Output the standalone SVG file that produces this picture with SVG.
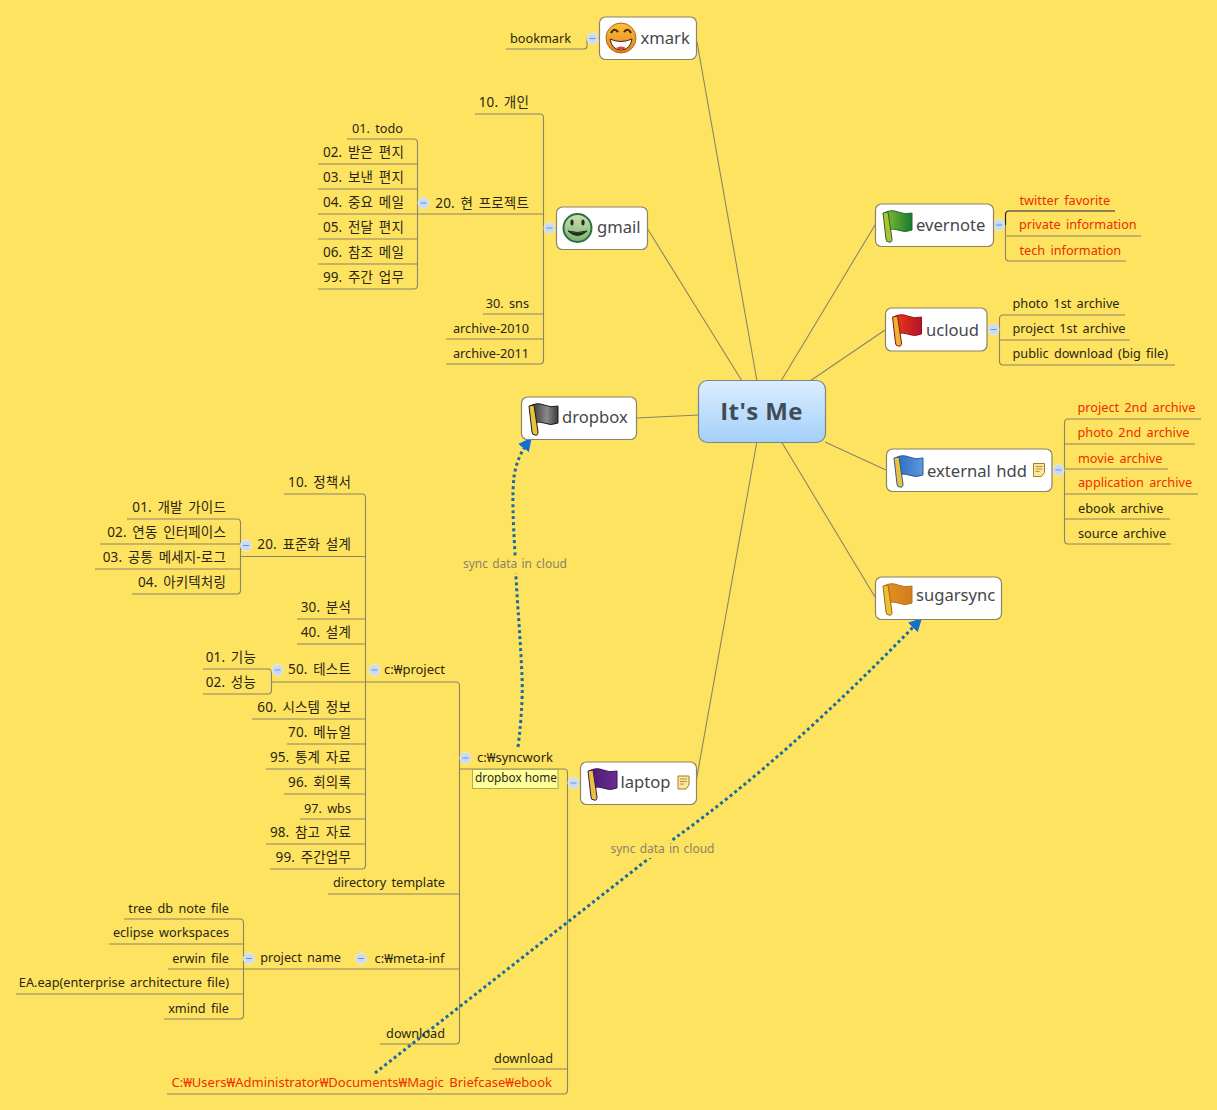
<svg xmlns="http://www.w3.org/2000/svg" width="1217" height="1110" viewBox="0 0 1217 1110">
<style>
text{font-family:"Noto Sans","Noto Sans CJK KR",sans-serif}
.t{font-size:12.7px;fill:#2b2614;text-anchor:end;word-spacing:2px}
.k{font-size:13.5px;fill:#2b2614;text-anchor:end;word-spacing:2px;letter-spacing:.15px}
.s{font-size:12.7px;fill:#2b2614;word-spacing:2px}
.r{font-size:12.7px;fill:#ee2c00;word-spacing:2px}
.m{font-size:16.6px;fill:#44474c}
.box{fill:#fff;stroke:#8a8468;stroke-width:1.2}
.c{fill:none;stroke:#8a8468;stroke-width:1.1}
.rel{fill:none;stroke:#1a6c9e;stroke-width:3;stroke-dasharray:3 3}
.lab{font-size:12px;fill:#8a8468;word-spacing:1px}
.dot{fill:#c9dcf2;stroke:#dfe8ee;stroke-width:1}
.min{stroke:#6f95c8;stroke-width:1}
</style>
<defs>
<linearGradient id="cg" x1="0" y1="0" x2="0" y2="1"><stop offset="0" stop-color="#dcedfd"/><stop offset="1" stop-color="#a3d0fa"/></linearGradient>
<linearGradient id="fg" x1="0" y1="0" x2="1" y2="0"><stop offset="0" stop-color="#8cc030"/><stop offset="1" stop-color="#167a30"/></linearGradient>
<linearGradient id="fr" x1="0" y1="0" x2="1" y2="0"><stop offset="0" stop-color="#f03a10"/><stop offset="1" stop-color="#b4142c"/></linearGradient>
<linearGradient id="fb" x1="0" y1="0" x2="1" y2="0"><stop offset="0" stop-color="#2a68c0"/><stop offset="1" stop-color="#5c9ad8"/></linearGradient>
<linearGradient id="fo" x1="0" y1="0" x2="1" y2="0"><stop offset="0" stop-color="#e8901c"/><stop offset="1" stop-color="#d07c20"/></linearGradient>
<linearGradient id="fk" x1="0" y1="0" x2="1" y2="0"><stop offset="0" stop-color="#2c2c2c"/><stop offset="0.6" stop-color="#8a8a8a"/><stop offset="1" stop-color="#3c3c3c"/></linearGradient>
<linearGradient id="fp" x1="0" y1="0" x2="1" y2="0"><stop offset="0" stop-color="#4a1a70"/><stop offset="1" stop-color="#6c2c90"/></linearGradient>
<linearGradient id="face" x1="0" y1="0" x2="0" y2="1"><stop offset="0" stop-color="#f8c23c"/><stop offset="1" stop-color="#e8801c"/></linearGradient>
<linearGradient id="gface" x1="0" y1="0" x2="0" y2="1"><stop offset="0" stop-color="#cfe0b0"/><stop offset="1" stop-color="#7cb070"/></linearGradient>
<path id="flag" d="M1,2 Q8,-2 15,1 Q22,4 29,2 L29,19 Q22,22 15,19 Q10,17 5,19 Z"/>
<path id="pole" d="M0,2 L5,1 L9,28 Q9,32 6,31 Q3,31 3,28 Z"/>
<marker id="arr" markerWidth="4.500" markerHeight="4.500" refX="3" refY="2.250" orient="auto"><path d="M0,0 L4.500,2.250 L0,4.500 Z" fill="#1470d0"/></marker>
<g id="note"><path d="M0,0 H11 V9 L8,13 H0 Z" fill="#fbe79a" stroke="#a87c28" stroke-width="1"/><path d="M2,3 H9 M2,5.500 H9 M2,8 H6" stroke="#a87c28" stroke-width="0.8"/></g>
<g id="dotm"><circle r="5.500" class="dot"/><path d="M-3,0 H3" class="min"/></g>
</defs>
<rect width="1217" height="1110" fill="#fee360"/>
<g id="connectors">
<path class="c" d="M697,42 L757,381 M647,228 L742,381 M636,418 L699,415 M696,782 L757,441 M875,225 L781,381 M885,330 L810,381 M886,470 L825,442 M875,597 L781,441"/>
<path class="c" d="M506,49 H584 Q587,49 587,46 V38 H599"/>
<path class="c" d="M475,114 H540 Q543.500,114 543.500,118 V360 Q543.500,364 540,364 H446 M417.500,214 H543.500 M483,314 H543.500 M446,339 H543.500 M543.500,228 H556"/>
<path class="c" d="M347,139 H414 Q417.500,139 417.500,143 V285 Q417.500,289 414,289 H318 M318,164 H417.500 M318,189 H417.500 M318,214 H417.500 M318,239 H417.500 M318,264 H417.500"/>
<path class="c" d="M993,225 H1005"/>
<path class="c" d="M1126,261 H1009 Q1005.500,261 1005.500,257 V225 M1005.500,236 H1141"/>
<path fill="none" stroke="#1c1c50" stroke-width="1.2" d="M1115,211 H1009 Q1005.500,211 1005.500,215 V225"/>
<path class="c" d="M987,330 H999.500 M1125,315 H1003 Q999.500,315 999.500,319 V361 Q999.500,365 1003,365 H1175 M999.500,340 H1130"/>
<path class="c" d="M1052,470 H1064.500 M1201,419 H1068 Q1064.500,419 1064.500,423 V540 Q1064.500,544 1068,544 H1171 M1064.500,444 H1195 M1064.500,469 H1168 M1064.500,494 H1198 M1064.500,519 H1170"/>
<path class="c" d="M459.500,769 H564 Q567.500,769 567.500,773 V1090 Q567.500,1094 564,1094 H167 M492,1069 H567.500 M567.500,783 H580"/>
<path class="c" d="M365.500,682 H456 Q459.500,682 459.500,686 V1040 Q459.500,1044 456,1044 H380 M328,894 H459.500 M243.500,969 H459.500"/>
<path class="c" d="M284,494 H362 Q365.500,494 365.500,498 V865 Q365.500,869 362,869 H270 M240.500,556.500 H365.500 M297,619 H365.500 M297,644 H365.500 M271.500,682 H365.500 M252,719 H365.500 M287,744 H365.500 M266,769 H365.500 M284,794 H365.500 M300,819 H365.500 M266,844 H365.500"/>
<path class="c" d="M127,519 H237 Q240.500,519 240.500,523 V590 Q240.500,594 237,594 H132 M100,544 H240.500 M95,569 H240.500"/>
<path class="c" d="M203,669 H268 Q271.500,669 271.500,673 V690 Q271.500,694 268,694 H203"/>
<path class="c" d="M124,919 H240 Q243.500,919 243.500,923 V1015 Q243.500,1019 240,1019 H164 M109,944 H243.500 M168,969 H243.500 M16,994 H243.500"/>
<path class="rel" marker-end="url(#arr)" d="M518,747 C522,715 523,690 521.700,670 C520,630 516,590 515,553 C513,520 512,495 514,477 C516,462 522,450 529,441"/>
<path class="rel" marker-end="url(#arr)" d="M375,1073 L675,838 Q788,757 919,621"/>
</g>
<g id="collapse">
<use href="#dotm" x="592.500" y="38.500"/><use href="#dotm" x="549.500" y="228"/><use href="#dotm" x="423.500" y="203"/>
<use href="#dotm" x="999" y="225"/><use href="#dotm" x="993.500" y="329.500"/><use href="#dotm" x="1058.500" y="470"/>
<use href="#dotm" x="573.500" y="783"/><use href="#dotm" x="465.500" y="758"/><use href="#dotm" x="374.500" y="670"/>
<use href="#dotm" x="246" y="545.500"/><use href="#dotm" x="277.500" y="670"/><use href="#dotm" x="249" y="958.500"/><use href="#dotm" x="361" y="958.500"/>
</g>
<g id="center"><rect x="698.500" y="380.500" width="127" height="62" rx="9" fill="url(#cg)" stroke="#78868e" stroke-width="1.2"/><text x="761.500" y="420" text-anchor="middle" font-size="24" font-weight="700" fill="#404c58" letter-spacing="0.400" style="font-family:'Open Sans',sans-serif">It's Me</text></g>
<g id="xmark"><rect class="box" x="599.500" y="17" width="97" height="42.500" rx="6"/>
<circle cx="621" cy="38" r="15" fill="url(#face)" stroke="#a86a18"/><path d="M610,39 Q621,44 632,39 Q630,50 621,50 Q612,50 610,39 Z" fill="#fff" stroke="#4a2810"/><path d="M616,48 Q621,45 626,48 Q621,51 616,48 Z" fill="#d8404c"/><path d="M611,33 Q614,27 618,32 M624,32 Q628,27 631,33" fill="none" stroke="#4a2810" stroke-width="2.200"/>
<text class="m" x="640.500" y="44">xmark</text></g>
<g id="bookmark"><text class="s" x="510" y="43">bookmark</text></g>
<g id="gmail"><rect class="box" x="556.500" y="207" width="91" height="42.500" rx="6"/>
<circle cx="577.500" cy="228" r="14" fill="url(#gface)" stroke="#2a7040" stroke-width="2"/><ellipse cx="572" cy="222.500" rx="1.600" ry="3" fill="#1c3020"/><ellipse cx="583" cy="222.500" rx="1.600" ry="3" fill="#1c3020"/><path d="M568,231 Q577.500,240 587,231 Q577.500,234 568,231 Z" fill="#1c3020" stroke="#1c3020"/>
<text class="m" x="597" y="233">gmail</text></g>
<g id="evernote"><rect class="box" x="875.500" y="204" width="118" height="42.500" rx="6"/><use href="#flag" x="883" y="211" fill="url(#fg)" stroke="#1c6c2c"/><use href="#pole" x="883" y="211" fill="#b0c030" stroke="#1c6c2c"/><text class="m" x="916" y="231">evernote</text></g>
<g id="ucloud"><rect class="box" x="885.500" y="308" width="101.500" height="43" rx="6"/><use href="#flag" x="892.500" y="315" fill="url(#fr)" stroke="#8c1420"/><use href="#pole" x="892.500" y="315" fill="#f0b030" stroke="#8c1420"/><text class="m" x="926" y="336">ucloud</text></g>
<g id="externalhdd"><rect class="box" x="886.500" y="449" width="165.500" height="42.500" rx="6"/><use href="#flag" x="894" y="456" fill="url(#fb)" stroke="#2a5c98"/><use href="#pole" x="894" y="456" fill="#e8c23c" stroke="#2a5c98"/><text class="m" x="927" y="477" word-spacing="1">external hdd</text><use href="#note" x="1033.500" y="463.500"/></g>
<g id="sugarsync"><rect class="box" x="875.500" y="577" width="126" height="42.500" rx="6"/><use href="#flag" x="883" y="584" fill="url(#fo)" stroke="#b8701c"/><use href="#pole" x="883" y="584" fill="#f0c030" stroke="#a06818"/><text class="m" x="916" y="601">sugarsync</text></g>
<g id="dropbox"><rect class="box" x="521.500" y="397" width="115" height="42.500" rx="6"/><use href="#flag" x="529" y="404" fill="url(#fk)" stroke="#1c1c1c"/><use href="#pole" x="529" y="404" fill="#e8c23c" stroke="#1c1c1c"/><text class="m" x="562" y="423">dropbox</text></g>
<g id="laptop"><rect class="box" x="580.500" y="762" width="116" height="42.500" rx="6"/><use href="#flag" x="588" y="769" fill="url(#fp)" stroke="#3c1458"/><use href="#pole" x="588" y="769" fill="#e8c23c" stroke="#3c1458"/><text class="m" x="620.500" y="788">laptop</text><use href="#note" x="678" y="776"/></g>
<g id="n-gmail">
<g id="g10"><text class="k" x="529" y="107">10. 개인</text></g>
<g id="g20"><text class="k" x="529" y="208">20. 현 프로젝트</text></g>
<g id="g30"><text class="t" x="529" y="308">30. sns</text></g>
<g id="g2010"><text class="t" x="529" y="333">archive-2010</text></g>
<g id="g2011"><text class="t" x="529" y="358">archive-2011</text></g>
<g id="g2001"><text class="t" x="403" y="133">01. todo</text></g>
<g id="g2002"><text class="k" x="404" y="157">02. 받은 편지</text></g>
<g id="g2003"><text class="k" x="404" y="182">03. 보낸 편지</text></g>
<g id="g2004"><text class="k" x="404" y="207">04. 중요 메일</text></g>
<g id="g2005"><text class="k" x="404" y="232">05. 전달 편지</text></g>
<g id="g2006"><text class="k" x="404" y="257">06. 참조 메일</text></g>
<g id="g2099"><text class="k" x="404" y="282">99. 주간 업무</text></g>
</g>
<g id="n-right">
<g id="e1"><text class="r" x="1019.500" y="205">twitter favorite</text></g>
<g id="e2"><text class="r" x="1019" y="229">private information</text></g>
<g id="e3"><text class="r" x="1019.500" y="255">tech information</text></g>
<g id="u1"><text class="s" x="1012.500" y="308">photo 1st archive</text></g>
<g id="u2"><text class="s" x="1012.500" y="333">project 1st archive</text></g>
<g id="u3"><text class="s" x="1012.500" y="358">public download (big file)</text></g>
<g id="h1"><text class="r" x="1077.500" y="412">project 2nd archive</text></g>
<g id="h2"><text class="r" x="1077.500" y="437">photo 2nd archive</text></g>
<g id="h3"><text class="r" x="1078" y="463">movie archive</text></g>
<g id="h4"><text class="r" x="1078" y="487">application archive</text></g>
<g id="h5"><text class="s" x="1078" y="513">ebook archive</text></g>
<g id="h6"><text class="s" x="1078" y="538">source archive</text></g>
</g>
<g id="n-laptop">
<g id="l1"><text class="t" x="553" y="762" font-size="13" style="font-size:13px">c:₩syncwork</text></g>
<g id="l2"><rect x="472.500" y="769.500" width="85.500" height="19" fill="#ffff9c" stroke="#b0ac50"/><text x="475" y="782" font-size="11.800" fill="#2b2614">dropbox home</text></g>
<g id="l3"><text class="t" x="553" y="1063">download</text></g>
<g id="l4"><text x="552" y="1087" font-size="13" fill="#ee2c00" text-anchor="end" word-spacing="2">C:₩Users₩Administrator₩Documents₩Magic Briefcase₩ebook</text></g>
<g id="p0"><text class="t" x="445" y="674" style="font-size:13px">c:₩project</text></g>
<g id="p1"><text class="t" x="445" y="887">directory template</text></g>
<g id="p2"><text class="t" x="444.500" y="963" style="font-size:13px">c:₩meta-inf</text></g>
<g id="p3"><text class="t" x="445" y="1038">download</text></g>
<g id="q10"><text class="k" x="351" y="487">10. 정책서</text></g>
<g id="q20"><text class="k" x="351" y="549">20. 표준화 설계</text></g>
<g id="q30"><text class="k" x="351" y="612">30. 분석</text></g>
<g id="q40"><text class="k" x="351" y="637">40. 설계</text></g>
<g id="q50"><text class="k" x="351" y="674">50. 테스트</text></g>
<g id="q60"><text class="k" x="351" y="712">60. 시스템 정보</text></g>
<g id="q70"><text class="k" x="351" y="737">70. 메뉴얼</text></g>
<g id="q95"><text class="k" x="351" y="762">95. 통계 자료</text></g>
<g id="q96"><text class="k" x="351" y="787">96. 회의록</text></g>
<g id="q97"><text class="t" x="351" y="813">97. wbs</text></g>
<g id="q98"><text class="k" x="351" y="837">98. 참고 자료</text></g>
<g id="q99"><text class="k" x="351" y="862">99. 주간업무</text></g>
<g id="r1"><text class="k" x="226" y="512">01. 개발 가이드</text></g>
<g id="r2"><text class="k" x="226" y="537">02. 연동 인터페이스</text></g>
<g id="r3"><text class="k" x="226" y="562">03. 공통 메세지-로그</text></g>
<g id="r4"><text class="k" x="226" y="587">04. 아키텍처링</text></g>
<g id="s1"><text class="k" x="256" y="662">01. 기능</text></g>
<g id="s2"><text class="k" x="256" y="687">02. 성능</text></g>
<g id="v0"><text class="t" x="341" y="962">project name</text></g>
<g id="v1"><text class="t" x="229" y="913">tree db note file</text></g>
<g id="v2"><text class="t" x="229" y="937">eclipse workspaces</text></g>
<g id="v3"><text class="t" x="229" y="963">erwin file</text></g>
<g id="v4"><text class="t" x="229" y="987">EA.eap(enterprise architecture file)</text></g>
<g id="v5"><text class="t" x="229" y="1013">xmind file</text></g>
</g>
<g id="rel-labels">
<rect x="460" y="556" width="110" height="17" fill="#fee360"/>
<text class="lab" x="463" y="568">sync data in cloud</text>
<rect x="607" y="841" width="110" height="17" fill="#fee360"/>
<text class="lab" x="610.500" y="853">sync data in cloud</text>
</g>
</svg>
